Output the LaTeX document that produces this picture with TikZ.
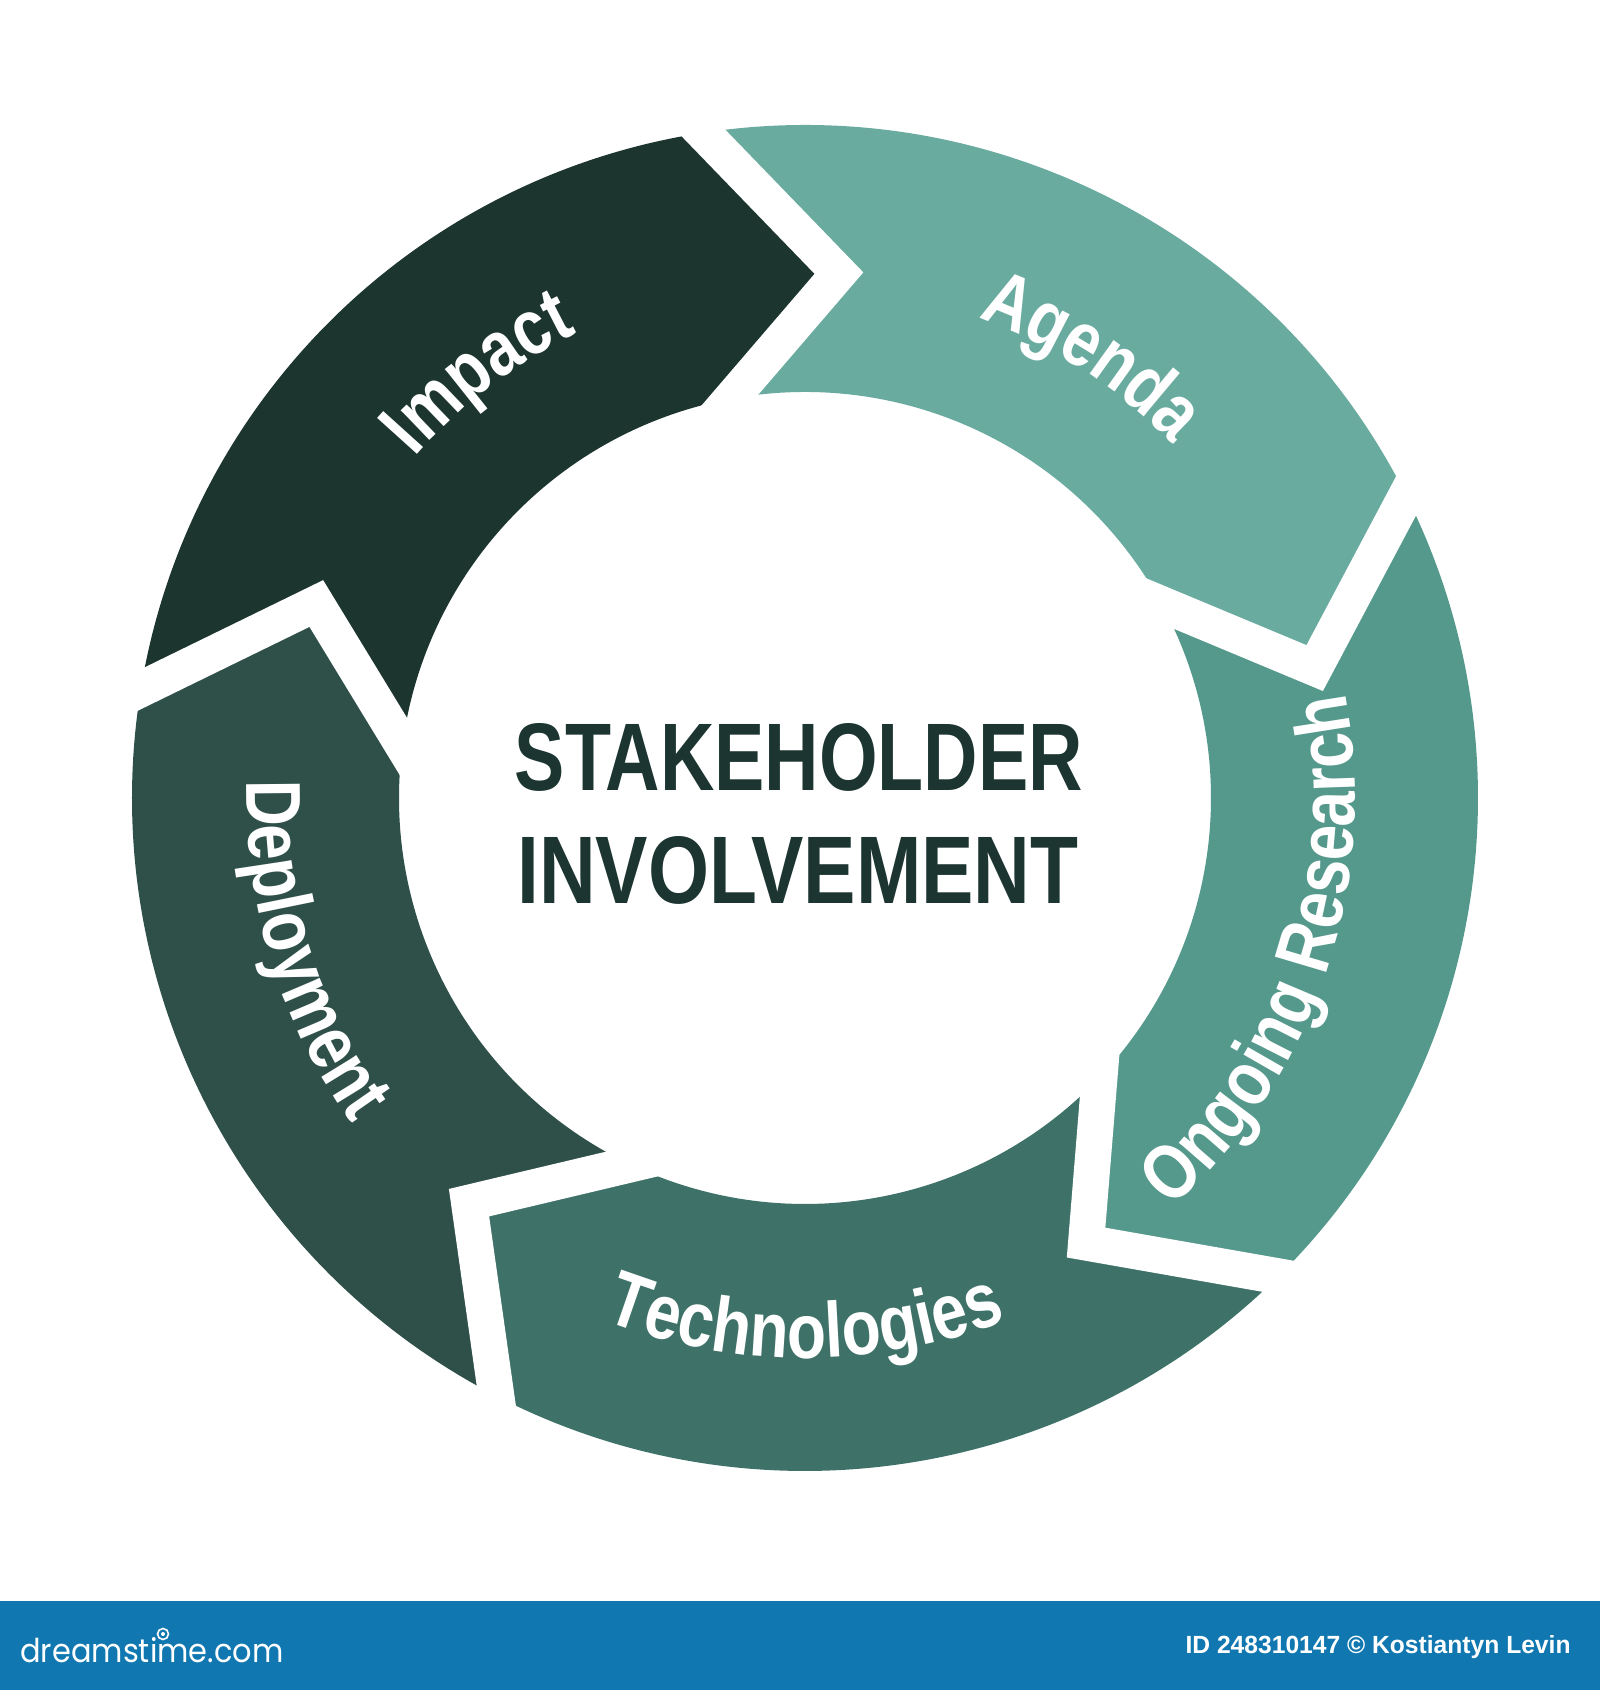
\documentclass[tikz,border=0pt]{standalone}
\usepackage{fontspec}
\setmainfont{Liberation Sans}
\newfontfamily\lblfont[FakeStretch=0.82]{Liberation Sans}
\newfontfamily\dtfont{Poppins}
\usetikzlibrary{calc,decorations.text}
\definecolor{cImp}{HTML}{1C352F}
\definecolor{cAg}{HTML}{6AABA0}
\definecolor{cOn}{HTML}{55998C}
\definecolor{cTe}{HTML}{3E7268}
\definecolor{cDe}{HTML}{2F5049}
\definecolor{cText}{HTML}{1C3530}
\definecolor{cBar}{HTML}{1077B0}
\newcommand\lblfmt{\lblfont\bfseries\fontsize{39}{44}\selectfont\color{white}}
\newcommand\segm[4]{%
  \fill[#1] (O#2) arc[start angle=#4, end angle={#4-72}, radius=673]
    -- (T#3) -- (I#3)
    arc[start angle={#4-72+1.8}, end angle={#4+1.8}, radius=406]
    -- (T#2) -- cycle;}
\newcommand\arclabel[4]{% text, centre angle, radius, direction (+1 ccw, -1 cw)
  \path[decorate, decoration={text along path, text={|\lblfmt|#1}, text align=center}]
    ($(C)+({#2-#4*48}:#3)$) arc[start angle={#2-#4*48}, end angle={#2+#4*48}, radius=#3];}
\tikzset{gapstyle/.style={white, line width=18pt, line join=miter, line cap=butt}}
\begin{document}
\begin{tikzpicture}[x=0.5pt,y=0.5pt]
\useasboundingbox (0,0) rectangle (1600,1690);
\fill[white] (0,0) rectangle (1600,1690);
\coordinate (C) at (805,892);
\foreach \i in {0,...,4}{
  \pgfmathsetmacro\a{98.7-72*\i}
  \coordinate (O\i) at ($(C)+(\a:673)$);
  \coordinate (T\i) at ($(C)+({\a-12.4}:526)$);
  \coordinate (I\i) at ($(C)+({\a+1.8}:406)$);
}
% segments
\segm{cAg}{0}{1}{98.7}
\segm{cOn}{1}{2}{26.7}
\segm{cTe}{2}{3}{-45.3}
\segm{cDe}{3}{4}{-117.3}
\segm{cImp}{4}{0}{-189.3}
% white gaps
\foreach \i in {0,...,4}{
  \draw[gapstyle] ($(T\i)!1.5!(O\i)$) -- (T\i) -- ($(T\i)!1.5!(I\i)$);
}
% labels
\arclabel{Impact}{127.5}{518}{-1}
\arclabel{Agenda}{57}{510}{-1}
\arclabel{Ongoing Research}{-18.6}{550}{1}
\arclabel{Technologies}{-90}{560}{1}
\arclabel{Deployment}{197}{558}{1}
% centre text
\node[anchor=base, inner sep=0, text=cText] (t1) at (799,899.7)
  {\resizebox{284pt}{33.5pt}{\bfseries STAKEHOLDER}};
\node[anchor=base, inner sep=0, text=cText] (t2) at (797.8,786.5)
  {\resizebox{280.5pt}{33.5pt}{\bfseries INVOLVEMENT}};
% bottom bar
\fill[cBar] (0,0) rectangle (1600,89);
\node[anchor=base west, inner sep=0, text=white] (dt) at (20,27)
  {\resizebox{131.5pt}{12.5pt}{\dtfont dreamstime.com}};
\draw[white, line width=0.8pt] (163,56) circle[radius=5.5];
\fill[white] (163,56) circle[radius=2];
\node[anchor=base east, inner sep=0, text=white] (id) at (1571,36)
  {\resizebox{192.5pt}{9pt}{\bfseries ID 248310147 © Kostiantyn Levin}};
\end{tikzpicture}
\end{document}
